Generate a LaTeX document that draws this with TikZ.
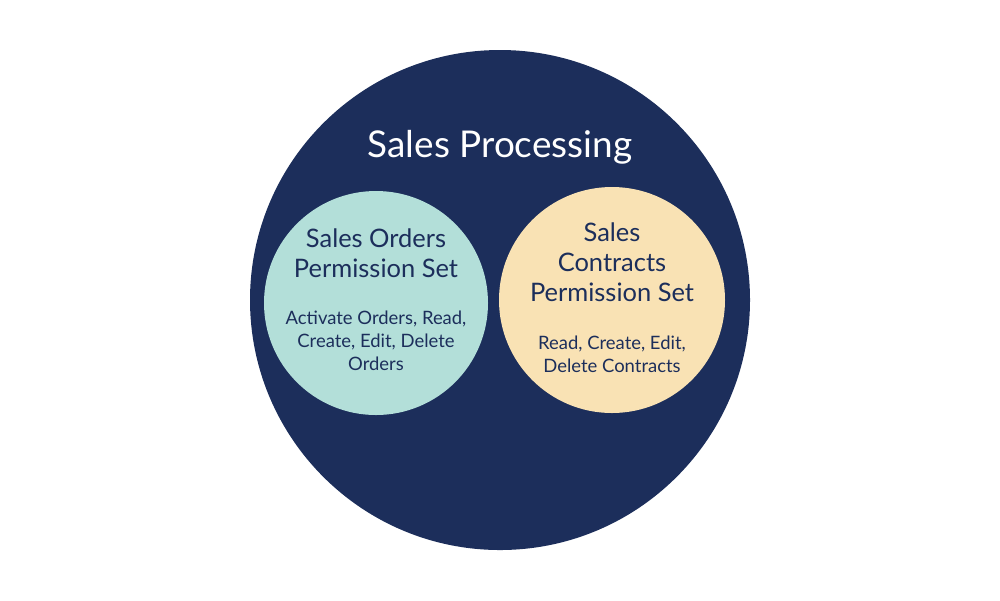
\documentclass[tikz,border=0pt]{standalone}
\usepackage{fontspec}
\setmainfont{Lato}
\definecolor{navy}{HTML}{1C2E5B}
\definecolor{teal}{HTML}{B3DFD9}
\definecolor{peach}{HTML}{F9E2B4}
\begin{document}
\begin{tikzpicture}[x=0.02cm,y=-0.02cm,
  ttl/.style={text=navy,font=\fontsize{14.5}{17}\selectfont,align=center},
  body/.style={text=navy,font=\fontsize{10.5}{13}\selectfont,align=center}]
\useasboundingbox (0,0) rectangle (1000,600);
\fill[navy] (500,300) circle[radius=250];
\node[text=white,font=\fontsize{21}{25}\selectfont] (t) at (500,147) {Sales Processing};
\fill[teal] (376,303) circle[radius=112];
\fill[peach] (612,300) circle[radius=113];
\node[ttl] (lt) at (376,253) {Sales Orders\\Permission Set};
\node[body] (lb) at (376,341) {Activate Orders, Read,\\Create, Edit, Delete\\Orders};
\node[ttl] (rt) at (612,262) {Sales\\Contracts\\Permission Set};
\node[body] (rb) at (612,354) {Read, Create, Edit,\\Delete Contracts};
\end{tikzpicture}
\end{document}
